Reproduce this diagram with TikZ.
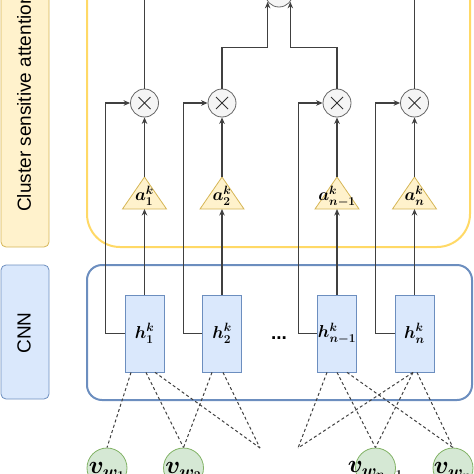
\documentclass[tikz,border=0pt]{standalone}
\usepackage[no-math]{fontspec}
\newfontfamily\sfl{Liberation Sans}
\usetikzlibrary{arrows.meta,calc}
\definecolor{linec}{HTML}{404040}
\definecolor{blueb}{HTML}{6C8EBF}
\definecolor{bluef}{HTML}{DAE8FC}
\definecolor{yelb}{HTML}{D6B656}
\definecolor{yelf}{HTML}{FFF2CC}
\definecolor{yelc}{HTML}{FFD966}
\definecolor{grnb}{HTML}{82B366}
\definecolor{grnf}{HTML}{D5E8D4}
\definecolor{grayb}{HTML}{666666}
\definecolor{grayf}{HTML}{F5F5F5}
\begin{document}
\begin{tikzpicture}[x=1pt,y=-1pt,
  line/.style={draw=linec, line width=1.1pt},
  arr/.style={line, -{Stealth[length=6.5pt,width=5.5pt]}},
  dsh/.style={draw=linec, line width=1pt, dash pattern=on 3pt off 2.5pt},
  mathf/.style={font=\fontsize{17}{17}\selectfont\boldmath},
  hbox/.style={draw=blueb, fill=bluef, line width=0.8pt, minimum width=39pt, minimum height=77pt, inner sep=0pt, mathf},
  mul/.style={circle, draw=grayb, fill=grayf, line width=0.8pt, minimum size=28pt, inner sep=0pt,
    path picture={
      \draw[line width=0.9pt, draw=black!80]
        ($(path picture bounding box.center)+(-6,-6)$) -- ($(path picture bounding box.center)+(6,6)$)
        ($(path picture bounding box.center)+(-6,6)$) -- ($(path picture bounding box.center)+(6,-6)$);}},
  tribox/.style={minimum width=44pt, minimum height=32pt, inner sep=0pt, outer sep=0pt, text height=15pt, text depth=0pt, mathf},
  tri/.style={draw=yelb, fill=yelf, line width=0.8pt},
  vcirc/.style={circle, draw=grnb, fill=grnf, line width=0.8pt, minimum size=40pt, inner sep=0pt},
  vlab/.style={inner sep=0pt, font=\fontsize{25}{25}\selectfont\boldmath},
  sidelab/.style={inner sep=0pt, rotate=90, font=\sfl\fontsize{19}{19}\selectfont},
  cont/.style={line width=2pt}
]
\clip (0,0) rectangle (474,474);
% side labels
\draw[draw=yelb, fill=yelf, line width=0.8pt, rounded corners=5pt] (1,-40) rectangle (49,247);
\draw[draw=blueb, fill=bluef, line width=0.8pt, rounded corners=5pt] (1,265) rectangle (49,399);
\node[sidelab, anchor=west] (lab1) at (24,212) {Cluster sensitive attention};
\node[sidelab] (lab2) at (24,333) {CNN};
% containers
\draw[cont, draw=yelc, rounded corners=33pt] (87,-60) rectangle (470,247);
\draw[cont, draw=blueb, rounded corners=15pt] (87,265) rectangle (472,400);
% h boxes
\node[hbox] (h1) at (144.5,333.5) {$h^k_1$};
\node[hbox] (h2) at (222,333.5) {$h^k_2$};
\node[hbox] (h3) at (337,333.5) {$h^k_{n-1}$};
\node[hbox] (h4) at (414.5,333.5) {$h^k_n$};
\node[inner sep=0pt, font=\sfl\bfseries\fontsize{19}{19}\selectfont] (dots) at (279,338) {...};
% triangles
\foreach \i/\x/\lab in {1/144.5/1,2/222/2,3/337/{n-1},4/414.5/n}{
  \path[tri] (\x-22,209) -- (\x+22,209) -- (\x,177) -- cycle;
  \node[tribox] (t\i) at (\x,193) {$a^k_{\lab}$};
}
% multiply circles
\node[mul] (m1) at (144.5,103) {};
\node[mul] (m2) at (222,103) {};
\node[mul] (m3) at (337,103) {};
\node[mul] (m4) at (414.5,103) {};
\node[mul] (mtop) at (279,-7) {};
% v circles
\node[vcirc] (v1) at (107,468) {};
\node[vcirc] (v2) at (183.5,468) {};
\node[vcirc] (v3) at (375.5,468) {};
\node[vcirc] (v4) at (453,468) {};
\node[vlab] (v1l) at (107,471) {$v_{w_1}$};
\node[vlab] (v2l) at (183.5,471) {$v_{w_2}$};
\node[vlab] (v3l) at (375.5,471) {$v_{w_{n-1}}$};
\node[vlab] (v4l) at (453,471) {$v_{w_n}$};
\coordinate (c1) at (260,448);
\coordinate (c2) at (298,448);
\coordinate (o1) at (144.5,-40);
\coordinate (o4) at (414.5,-40);
% connectors
\foreach \i in {1,2,3,4}{
  \draw[arr] (h\i.north) -- (t\i.south);
  \draw[arr] (t\i.north) -- (m\i.south);
  \draw[arr] (h\i.west) -- ++(-19,0) |- (m\i.west);
}
\draw[line] (m1.north) -- (o1);
\draw[line] (m4.north) -- (o4);
\draw[arr] (m2.north) |- ($(mtop.218)+(0,46)$) -- (mtop.218);
\draw[arr] (m3.north) |- ($(mtop.322)+(0,46)$) -- (mtop.322);
% dashed
\draw[dsh] ($(h1.south)+(-13.5,0)$) -- (v1.north);
\draw[dsh] ($(h1.south)+(1.5,0)$) -- (v2.north);
\draw[dsh] ($(h1.south)+(10.5,0)$) -- (c1);
\draw[dsh] ($(h2.south)+(-10,0)$) -- (v2.north);
\draw[dsh] ($(h2.south)+(1,0)$) -- (c1);
\draw[dsh] ($(h3.south)+(-10,0)$) -- (c2);
\draw[dsh] (h3.south) -- (v3.north);
\draw[dsh] ($(h3.south)+(10,0)$) -- (v4.north);
\draw[dsh] ($(h4.south)+(-1.5,0)$) -- (c2);
\draw[dsh] ($(h4.south)+(-1.5,0)$) -- (v3.north);
\draw[dsh] ($(h4.south)+(2.5,0)$) -- (v4.north);
\end{tikzpicture}
\end{document}
